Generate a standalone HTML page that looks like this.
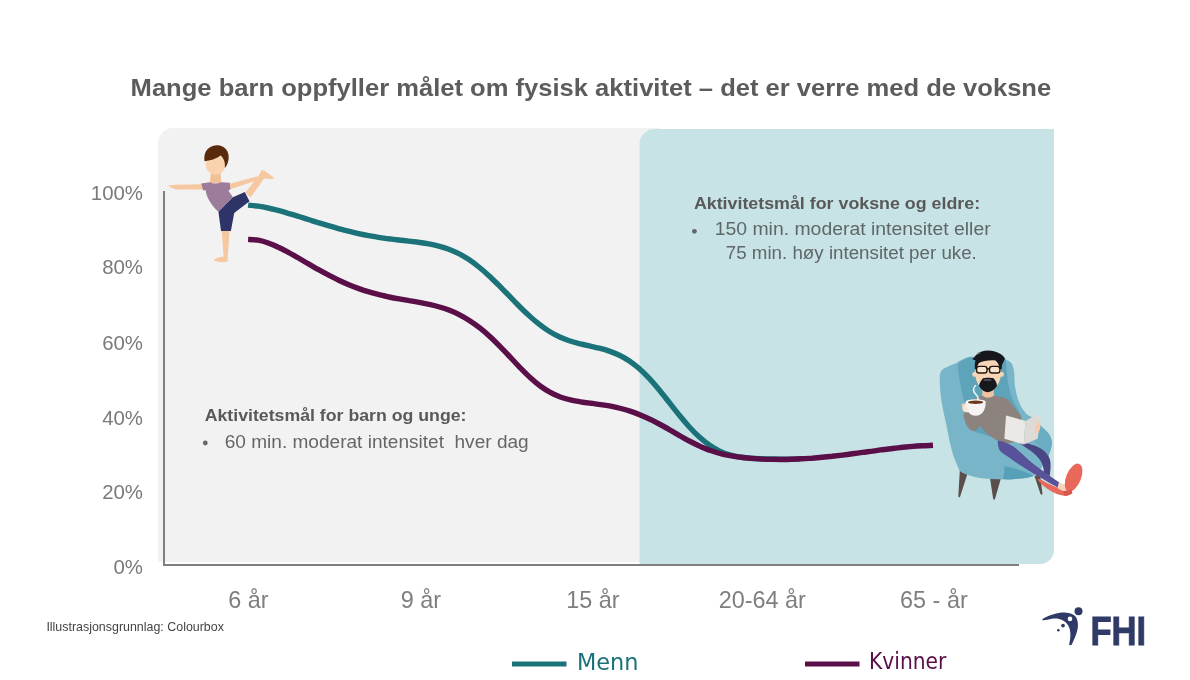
<!DOCTYPE html>
<html lang="no">
<head>
<meta charset="utf-8">
<title>Fysisk aktivitet</title>
<style>
html,body{margin:0;padding:0;background:#fff;}
body{width:1190px;height:680px;overflow:hidden;position:relative;}
svg{position:absolute;left:0;top:0;display:block;}
.cal{font-family:"Liberation Sans",sans-serif;}
.dj{font-family:"DejaVu Sans","Liberation Sans",sans-serif;}
</style>
</head>
<body>
<svg width="1190" height="680" viewBox="0 0 1190 680">
<!-- panels -->
<path d="M173 128 H660 V562 H158 V143 A15 15 0 0 1 173 128 Z" fill="#f2f2f2"/>
<path d="M654.500 129 H1054 V550 A14 14 0 0 1 1040 564 H639.500 V144 A15 15 0 0 1 654.500 129 Z" fill="#c8e3e5"/>
<!-- axes -->
<rect x="163" y="191" width="2" height="375" fill="#7f7f7f"/>
<rect x="163" y="564" width="856" height="2" fill="#7f7f7f"/>
<!-- title -->
<text class="cal" x="130.600" y="95.900" font-size="23.800" font-weight="bold" fill="#5c5c5c" textLength="920.600" lengthAdjust="spacingAndGlyphs">Mange barn oppfyller målet om fysisk aktivitet – det er verre med de voksne</text>
<!-- y labels -->
<g class="cal" font-size="20.400" fill="#7a7a7a" text-anchor="end">
<text x="143" y="199.600">100%</text>
<text x="143" y="274.400">80%</text>
<text x="143" y="349.800">60%</text>
<text x="143" y="424.600">40%</text>
<text x="143" y="499.300">20%</text>
<text x="143" y="574">0%</text>
</g>
<!-- x labels -->
<g class="cal" font-size="23.400" fill="#7f7f7f" text-anchor="middle">
<text x="248.400" y="608.300">6 år</text>
<text x="420.800" y="608.300">9 år</text>
<text x="592.800" y="608.300">15 år</text>
<text x="762.300" y="608.300">20-64 år</text>
<text x="933.900" y="608.300">65 - år</text>
</g>
<!-- curves -->
<path id="teal" d="M248.1 205.1 C249.8 205.3 254.8 205.7 258.1 206.2 C261.5 206.7 264.8 207.3 268.2 208.0 C271.5 208.7 274.9 209.6 278.2 210.4 C281.5 211.3 284.9 212.3 288.2 213.3 C291.6 214.2 294.9 215.3 298.3 216.3 C301.6 217.4 305.0 218.4 308.3 219.5 C311.7 220.6 315.0 221.6 318.3 222.7 C321.7 223.7 325.0 224.7 328.4 225.7 C331.7 226.7 335.1 227.7 338.4 228.6 C341.8 229.5 345.1 230.4 348.4 231.2 C351.8 232.1 355.1 232.8 358.5 233.6 C361.8 234.3 365.2 235.0 368.5 235.6 C371.9 236.2 375.2 236.8 378.5 237.3 C381.9 237.8 385.2 238.3 388.6 238.8 C391.9 239.2 395.3 239.6 398.6 240.0 C402.0 240.4 405.3 240.7 408.7 241.1 C412.0 241.5 415.3 241.9 418.7 242.3 C422.0 242.8 425.4 243.3 428.7 243.9 C432.1 244.5 435.4 245.2 438.8 246.1 C442.1 247.0 445.4 248.0 448.8 249.2 C452.1 250.5 455.5 251.9 458.8 253.7 C462.2 255.4 465.5 257.4 468.9 259.6 C472.2 261.8 475.5 264.3 478.9 267.0 C482.2 269.6 485.6 272.6 488.9 275.7 C492.3 278.8 495.6 282.1 499.0 285.4 C502.3 288.8 505.7 292.3 509.0 295.7 C512.3 299.1 515.7 302.6 519.0 306.0 C522.4 309.3 525.7 312.6 529.1 315.6 C532.4 318.7 535.8 321.6 539.1 324.2 C542.4 326.8 545.8 329.3 549.1 331.3 C552.5 333.4 555.8 335.2 559.2 336.8 C562.5 338.3 565.9 339.6 569.2 340.7 C572.6 341.8 575.9 342.7 579.2 343.6 C582.6 344.4 585.9 345.1 589.3 345.9 C592.6 346.7 596.0 347.4 599.3 348.2 C602.7 349.1 606.0 350.0 609.3 351.1 C612.7 352.3 616.0 353.6 619.4 355.2 C622.7 356.8 626.1 358.7 629.4 361.0 C632.8 363.3 636.1 365.9 639.4 368.8 C642.8 371.8 646.1 375.1 649.5 378.7 C652.8 382.3 656.2 386.3 659.5 390.3 C662.9 394.3 666.2 398.7 669.6 402.9 C672.9 407.1 676.2 411.5 679.6 415.5 C682.9 419.6 686.3 423.6 689.6 427.2 C693.0 430.9 696.3 434.3 699.7 437.3 C703.0 440.3 706.3 443.0 709.7 445.3 C713.0 447.6 716.4 449.5 719.7 451.1 C723.1 452.7 726.4 453.9 729.8 454.9 C733.1 455.8 736.4 456.5 739.8 457.0 C743.1 457.6 746.5 457.9 749.8 458.2 C753.2 458.5 756.5 458.6 759.9 458.7 C763.2 458.9 766.6 458.9 769.9 459.0 C773.2 459.0 776.6 459.1 779.9 459.1 C783.3 459.1 786.6 459.2 790.0 459.2 C793.3 459.2 798.3 459.1 800.0 459.1" fill="none" stroke="#1b7279" stroke-width="5.4"/>
<path id="purple" d="M248.1 239.4 C249.8 239.5 254.8 239.6 258.2 240.2 C261.5 240.8 264.9 241.8 268.2 243.0 C271.6 244.2 275.0 245.6 278.3 247.2 C281.7 248.7 285.0 250.5 288.4 252.3 C291.7 254.1 295.1 256.1 298.5 258.0 C301.8 259.9 305.2 262.0 308.5 263.9 C311.9 265.8 315.2 267.8 318.6 269.7 C322.0 271.6 325.3 273.4 328.7 275.2 C332.0 277.0 335.4 278.6 338.7 280.2 C342.1 281.8 345.5 283.3 348.8 284.7 C352.2 286.1 355.5 287.4 358.9 288.6 C362.2 289.8 365.6 290.9 369.0 291.9 C372.3 292.9 375.7 293.8 379.0 294.7 C382.4 295.5 385.8 296.3 389.1 297.0 C392.5 297.7 395.8 298.3 399.2 298.9 C402.5 299.5 405.9 300.1 409.3 300.7 C412.6 301.2 416.0 301.8 419.3 302.4 C422.7 303.0 426.0 303.7 429.4 304.4 C432.8 305.2 436.1 306.0 439.5 307.0 C442.8 307.9 446.2 309.0 449.5 310.3 C452.9 311.6 456.3 313.1 459.6 314.8 C463.0 316.5 466.3 318.5 469.7 320.7 C473.0 322.8 476.4 325.3 479.8 327.9 C483.1 330.5 486.5 333.4 489.8 336.5 C493.2 339.6 496.5 342.9 499.9 346.3 C503.3 349.7 506.6 353.3 510.0 356.9 C513.3 360.4 516.7 364.1 520.0 367.6 C523.4 371.0 526.8 374.5 530.1 377.5 C533.5 380.6 536.8 383.5 540.2 386.0 C543.5 388.4 546.9 390.6 550.3 392.4 C553.6 394.3 557.0 395.7 560.3 397.0 C563.7 398.2 567.0 399.1 570.4 399.9 C573.8 400.7 577.1 401.2 580.5 401.8 C583.8 402.4 587.2 402.8 590.5 403.2 C593.9 403.7 597.3 404.1 600.6 404.6 C604.0 405.1 607.3 405.6 610.7 406.2 C614.1 406.9 617.4 407.6 620.8 408.5 C624.1 409.3 627.5 410.3 630.8 411.4 C634.2 412.5 637.6 413.8 640.9 415.2 C644.3 416.6 647.6 418.1 651.0 419.7 C654.3 421.4 657.7 423.2 661.1 425.0 C664.4 426.8 667.8 428.7 671.1 430.7 C674.5 432.6 677.8 434.6 681.2 436.5 C684.6 438.4 687.9 440.3 691.3 442.0 C694.6 443.7 698.0 445.4 701.3 446.9 C704.7 448.3 708.1 449.7 711.4 450.8 C714.8 452.0 718.1 453.0 721.5 453.8 C724.8 454.7 728.2 455.3 731.6 455.9 C734.9 456.6 738.3 457.0 741.6 457.4 C745.0 457.8 748.3 458.2 751.7 458.4 C755.1 458.7 758.4 458.9 761.8 459.1 C765.1 459.3 768.5 459.4 771.8 459.4 C775.2 459.5 778.6 459.5 781.9 459.5 C785.3 459.5 788.6 459.4 792.0 459.3 C795.3 459.2 798.7 459.0 802.1 458.8 C805.4 458.7 808.8 458.4 812.1 458.2 C815.5 457.9 818.9 457.6 822.2 457.3 C825.6 457.0 828.9 456.6 832.3 456.3 C835.6 455.9 839.0 455.5 842.4 455.1 C845.7 454.7 849.1 454.2 852.4 453.8 C855.8 453.3 859.1 452.9 862.5 452.4 C865.9 452.0 869.2 451.5 872.6 451.1 C875.9 450.6 879.3 450.2 882.6 449.7 C886.0 449.3 889.4 448.9 892.7 448.5 C896.1 448.1 899.4 447.7 902.8 447.3 C906.1 447.0 909.5 446.7 912.9 446.4 C916.2 446.1 919.6 445.9 922.9 445.7 C926.3 445.5 931.3 445.4 933.0 445.3" fill="none" stroke="#5a0f49" stroke-width="5.4"/>
<!-- text blocks -->
<g class="cal" fill="#595959">
<text x="204.700" y="421.100" font-size="17.300" font-weight="bold" textLength="261.800" lengthAdjust="spacingAndGlyphs">Aktivitetsmål for barn og unge:</text>
<circle cx="205.300" cy="443" r="2.400" fill="#666"/>
<text x="224.700" y="448.400" font-size="17.500" fill="#666" xml:space="preserve" textLength="304" lengthAdjust="spacingAndGlyphs">60 min. moderat intensitet  hver dag</text>
<text x="693.900" y="209.100" font-size="17.300" font-weight="bold" textLength="286.200" lengthAdjust="spacingAndGlyphs">Aktivitetsmål for voksne og eldre:</text>
<circle cx="694.400" cy="231.300" r="2.400" fill="#5f6768"/>
<text x="714.700" y="235.100" font-size="17.500" fill="#5f6768" textLength="276" lengthAdjust="spacingAndGlyphs">150 min. moderat intensitet eller</text>
<text x="725.800" y="259" font-size="17.500" fill="#5f6768" textLength="251" lengthAdjust="spacingAndGlyphs">75 min. høy intensitet per uke.</text>
</g>
<!-- footer -->
<text class="cal" x="46.400" y="630.600" font-size="12.700" fill="#444" textLength="177.500" lengthAdjust="spacingAndGlyphs">Illustrasjonsgrunnlag: Colourbox</text>
<!-- legend -->
<rect x="512" y="661.500" width="54.500" height="5" fill="#1b7279"/>
<text class="dj" x="577" y="669.600" font-size="23" fill="#1b7279" textLength="61.500" lengthAdjust="spacingAndGlyphs">Menn</text>
<rect x="805" y="661.500" width="54.500" height="5" fill="#5a0f49"/>
<text class="dj" x="869" y="669.400" font-size="23" fill="#5a0f49" textLength="77.400" lengthAdjust="spacingAndGlyphs">Kvinner</text>
<!-- KID -->
<g id="kid">
<!-- left arm -->
<path d="M202 184.300 L177 184.800 L168.200 185.200 Q170.500 188 176 189.400 L203.500 189.600 Z" fill="#f6c8a0"/>
<!-- right arm -->
<path d="M229.500 183.800 L257.500 176.300 L260 179.500 L230.200 189.300 Z" fill="#f6c8a0"/>
<!-- raised leg -->
<path d="M245.400 192.600 L258.300 176.200 L261.900 169.800 L265 171 L274.400 178 L272 178.900 L264 178.400 L250.600 197.500 Z" fill="#f6c8a0"/>
<!-- standing leg -->
<path d="M221.700 230 L229.600 230 L227.700 258.500 L227.800 261.600 Q220 263.200 213.700 260.600 Q214.500 257.800 223.600 256.500 Z" fill="#f6c8a0"/>
<!-- neck -->
<path d="M211 172 L220.500 172 L221.200 183 L209.800 183 Z" fill="#f1c097"/>
<!-- shirt -->
<path d="M201.200 183.400 L209.800 182.200 Q215.500 184.800 221.200 182.200 L229.800 182.800 L230.300 189.500 L228.300 190.600 L232.900 197.200 L218.400 211.800 C211 205 206.500 197 205.500 190 L203.200 190.600 Z" fill="#9c7b9b"/>
<!-- shorts -->
<path d="M218.400 211.800 L232.900 197.200 L244.800 191.900 L249.500 201.200 L234.200 213.100 L230.900 230.900 L221 230.900 Z" fill="#2f3468"/>
<!-- face -->
<ellipse cx="215.500" cy="164.800" rx="9.800" ry="10" fill="#f9d2ae"/>
<!-- hair -->
<path d="M204.500 161.200 C203.300 152 208 146 216.500 145.300 C225 145 229.600 152 228.600 159 C228 163 226.500 166.500 224.800 168 C225.500 163 224 158.500 220.700 155.600 C216 159 210 160.700 204.500 161.200 Z" fill="#5a2a0c"/>
</g>
<!-- MAN -->
<g id="man">
<!-- chair legs -->
<path d="M960 468 L968 472 L960 497 Q958.500 498 958.300 496 Z" fill="#5b4f4b"/>
<path d="M990 478 L1001 478 L995 499 Q994 500.500 993.200 499 Z" fill="#5b4f4b"/>
<path d="M1034.500 476 L1040 474 L1042.500 494 Q1041.500 495.500 1040.500 494 Z" fill="#5b4f4b"/>
<!-- chair body (light) -->
<path d="M939.700 378 C939.500 372 942 369 946 367.500 C950 365.500 953 364 956.500 362.900 C961 360 965 358 969.700 356.800 L1000 357 C1003.500 357.300 1005.500 358.500 1006.800 360.300 C1010.500 361.500 1012.500 363.500 1013 366.500 C1014.800 372 1014.200 378 1014.700 384 C1015.500 390 1016.500 395 1018.300 400 C1020 405 1022.500 410 1027 414.600 C1033 419 1038.500 423 1043.300 428.300 C1047 431.500 1049.500 434 1050.500 437.200 C1052 440 1052.300 443.500 1051.300 446.900 C1049.500 458 1042 469 1033.500 476 C1029 477.800 1025 478.300 1020.600 478.500 C1015 479.300 1009 479.600 1002.800 479.300 C994 479.300 986 478.800 978.500 477.700 C972 476.500 966.500 475 962.400 472.800 C960.500 472 959.600 471 959.100 469.600 C956.500 464 954.500 459 952.700 453.400 C950 444 948 434 946.200 424.300 C944.300 416 942.600 408 941.300 400 C940.300 392 939.800 385 939.700 378 Z" fill="#79b5c8"/>
<!-- inner back (dark) -->
<path d="M957.500 364 C962 360.500 966 358.500 970 357.300 L1000 357.500 C1003 358 1005 359 1006 361 C1006.500 372 1007.500 385 1012 398 L1020 414 L1004 440 L975 432 C966 412 960 390 957.500 364 Z" fill="#5da3ba"/>
<!-- seat front shade -->
<path d="M1004.400 466 C1012 467.500 1022 470 1033.500 476 C1029 477.800 1025 478.300 1020.600 478.500 C1015 479.300 1009 479.600 1002.800 479.300 C1004 475 1004.600 471 1004.400 466 Z" fill="#56a0b8"/>
<!-- right arm rest inner shade -->
<path d="M1027 415 C1034 420 1040 425 1043.300 428.300 C1047 431.500 1049.500 434 1050.500 437.200 C1052 440 1052.300 443.500 1051.300 446.900 C1050 452 1048 456 1046 460 C1044 452 1040 446 1034 442 L1038 420 Z" fill="#6aadc2"/>
<!-- sweater -->
<path d="M982.500 395.800 L993.800 395.800 C1000 396.200 1006 397.800 1009.200 401 C1013 406 1017 411 1021 415.500 L1024 440 L1006 444 L998 441 C990 436.500 984 432 980 425.500 C978 430 974.500 432 971.500 430.500 C967 428 964.500 422 963.500 415 L966 407.500 C968 403.500 971 400 975.500 398 Z" fill="#8c837e"/>
<!-- neck -->
<path d="M982.300 388 L993.800 388 L993.800 395.800 Q988 399.500 982.300 395.800 Z" fill="#f0c3a0"/>
<!-- face -->
<path d="M975.200 366 L1001 366 L1001 374 C1001 380 997 387 993 390.500 L983 390.500 C979 387 975.200 380 975.200 374 Z" fill="#f9d5b7"/>
<ellipse cx="974.300" cy="374.300" rx="2" ry="2.600" fill="#f9d5b7"/>
<ellipse cx="1001.900" cy="374.300" rx="2" ry="2.600" fill="#f9d5b7"/>
<path d="M978 359 L999 359 L1001 368 L975.200 368 Z" fill="#f9d5b7"/>
<!-- hair -->
<path d="M972.400 359.200 C975 355 978 352.500 981 351.800 C985 350.300 990 350.200 994 351.300 C999 352.500 1003 355 1005 358.500 C1004 361 1002.800 363 1002 365 L1001.600 369.300 L999.500 369.300 C999.500 365.500 998 362.500 995.500 360.500 C989 360 983 361 979 363 C977.500 365 977 367 977 369.300 L975 369.300 C974.500 366 974.800 363 975.500 360.500 Z" fill="#17181d"/>
<path d="M973.800 357.500 C975.500 355 977.500 353.500 980 352.800" fill="none" stroke="#cfd6da" stroke-width="0.800" stroke-linecap="round" opacity="0.800"/>
<!-- glasses -->
<rect x="976.600" y="366.400" width="10.400" height="6.600" rx="2.600" fill="#fbe3cd" stroke="#24160f" stroke-width="1.400"/>
<rect x="989.500" y="366.400" width="10.400" height="6.600" rx="2.600" fill="#fbe3cd" stroke="#24160f" stroke-width="1.400"/>
<path d="M986.800 368.800 L989.700 368.800" stroke="#24160f" stroke-width="1.400"/>
<!-- beard -->
<path d="M983 378.300 C985.500 377.600 991 377.600 993.500 378.300 C995.500 380.500 996.800 383 997 386 C995 389 991.500 392 987.500 392.200 C984 392 980.800 389 979 386 C979.500 383 981 380.500 983 378.300 Z" fill="#17181d"/>
<path d="M984.200 380 L990.800 380" stroke="#7d7d82" stroke-width="1.100" stroke-linecap="round"/>
<!-- steam -->
<path d="M975.500 385.500 C972 389 973.500 392 976 394.500 C978 396.500 978.600 398 978 400" fill="none" stroke="#f2f7f8" stroke-width="1.600" stroke-linecap="round" opacity="0.900"/>
<!-- hand with cup -->
<path d="M961.600 404.500 Q964 402.500 966.500 403.500 L967.500 412 Q964.500 413 962.500 410.500 Z" fill="#f5cdae"/>
<path d="M966.500 405.500 C963.500 405 963.500 411 967.800 411.500" fill="none" stroke="#f6f4f2" stroke-width="1.800"/>
<path d="M965.600 402 C965.600 410 969.200 415.800 975.600 415.800 C982 415.800 985.700 410 985.700 402 Z" fill="#f6f4f2"/>
<ellipse cx="975.650" cy="402" rx="10.050" ry="2.700" fill="#fbfaf9"/>
<ellipse cx="975.650" cy="402.300" rx="7.600" ry="1.700" fill="#6b3a1e"/>
<!-- pants: back leg loop -->
<path d="M1018 442 C1028 443 1037 445.500 1043.300 450.200 C1048 454 1050.500 459 1050.500 463.100 C1050.800 468 1050.300 472 1049.700 476 L1043.800 473 C1044 468 1042.500 463.500 1040 459.900 C1036.500 455 1032 451.500 1027.100 448.500 Z" fill="#4a4583"/>
<!-- pants: front leg -->
<path d="M998 440.400 C1004 441.500 1009 443.500 1014.100 446.900 C1020 451.500 1025 456.500 1030.300 461.500 C1034.500 465 1039 468.300 1043.300 471.200 C1048.500 475 1054 479 1059.400 482.500 L1057.800 487.600 C1053 485 1048 482.300 1043.300 479.300 C1038 476.300 1032.500 473 1027.100 469.600 C1020.500 465.500 1014 461.300 1007.700 456.600 C1004.500 454.500 1001.500 452.500 999.600 450.200 C998 447 997.500 443.500 998 440.400 Z" fill="#57529a"/>
<!-- book -->
<path d="M1006 415.400 L1025.500 421 L1023.800 444.500 L1004.400 438.800 Z" fill="#ebe8e5"/>
<path d="M1025.500 421 L1036.800 414.600 L1040.800 419.400 L1037.600 438.800 L1023.800 444.500 Z" fill="#dedad6"/>
<ellipse cx="1037.600" cy="427.500" rx="2.600" ry="5" fill="#f5cdae" transform="rotate(12 1037.600 427.500)"/>
<!-- foot + slippers -->
<path d="M1037.600 478.800 C1039.500 479 1041.500 479.800 1043.300 480.900 C1046.500 482.600 1049.800 484.300 1053 485.800 L1059.400 488.200 L1069.100 490.600 L1072.400 493 C1070 495 1067 496 1064.300 495.800 C1061.500 495.500 1058.800 494.800 1056.200 493.800 C1052.800 492.300 1049.500 490.400 1046.500 488.200 C1044 486.500 1041.800 484.600 1040 482.500 C1038.800 481.300 1038 480 1037.600 478.800 Z" fill="#e8695c"/>
<path d="M1058.600 482.800 L1067.500 485 L1071 489.500 L1063 491.300 L1058 488.600 Z" fill="#f7d3bb"/>
<ellipse cx="1073.600" cy="477.600" rx="7.400" ry="14.800" transform="rotate(22 1073.600 477.600)" fill="#e8695c"/>
<path d="M1063 490.800 C1066 491.300 1069 490.800 1071.500 489.500 L1072.400 493 C1070 495 1067 496 1064.300 495.800 Z" fill="#d9574c"/>
</g>
<!-- LOGO -->
<g id="logo" fill="#2f3b66">
<path d="M1042.600 618.900 C1047 616.500 1050 615.200 1053.600 614.200 C1057.500 613.100 1061 612.500 1064.400 612.600 C1067.500 612.700 1070.200 613.200 1072.400 614.200 C1075 615.500 1076.500 617.300 1077.100 619.600 C1077.900 622.300 1078.100 625 1077.800 627.600 C1077.400 631 1076.300 634.200 1075.100 637.100 C1074.100 639.700 1073 642.300 1071.800 644.500 C1071 645.400 1069.500 645.300 1069.100 644.500 C1069.900 641.500 1070.300 638.600 1070.400 635.700 C1070.500 633.400 1070.300 631 1069.700 629 C1068.900 626.300 1067.500 624 1065.700 622.300 C1063.800 620.500 1061.500 619.500 1059 618.900 C1056.400 618.300 1053.600 618.400 1050.900 618.900 C1048.400 619.300 1045.900 619.900 1043.500 620.300 C1042.300 620.300 1041.900 619.400 1042.600 618.900 Z"/>
<circle cx="1070" cy="618.900" r="2.300" fill="#fff"/>
<circle cx="1078.500" cy="611.200" r="4"/>
<circle cx="1063" cy="625.600" r="1.900"/>
<circle cx="1058.300" cy="630.300" r="1.300"/>
<text class="cal" x="1090.400" y="645.100" font-size="41.500" font-weight="bold" stroke="#2f3b66" stroke-width="0.900" textLength="55.800" lengthAdjust="spacingAndGlyphs">FHI</text>
</g>
</svg>
</body>
</html>
